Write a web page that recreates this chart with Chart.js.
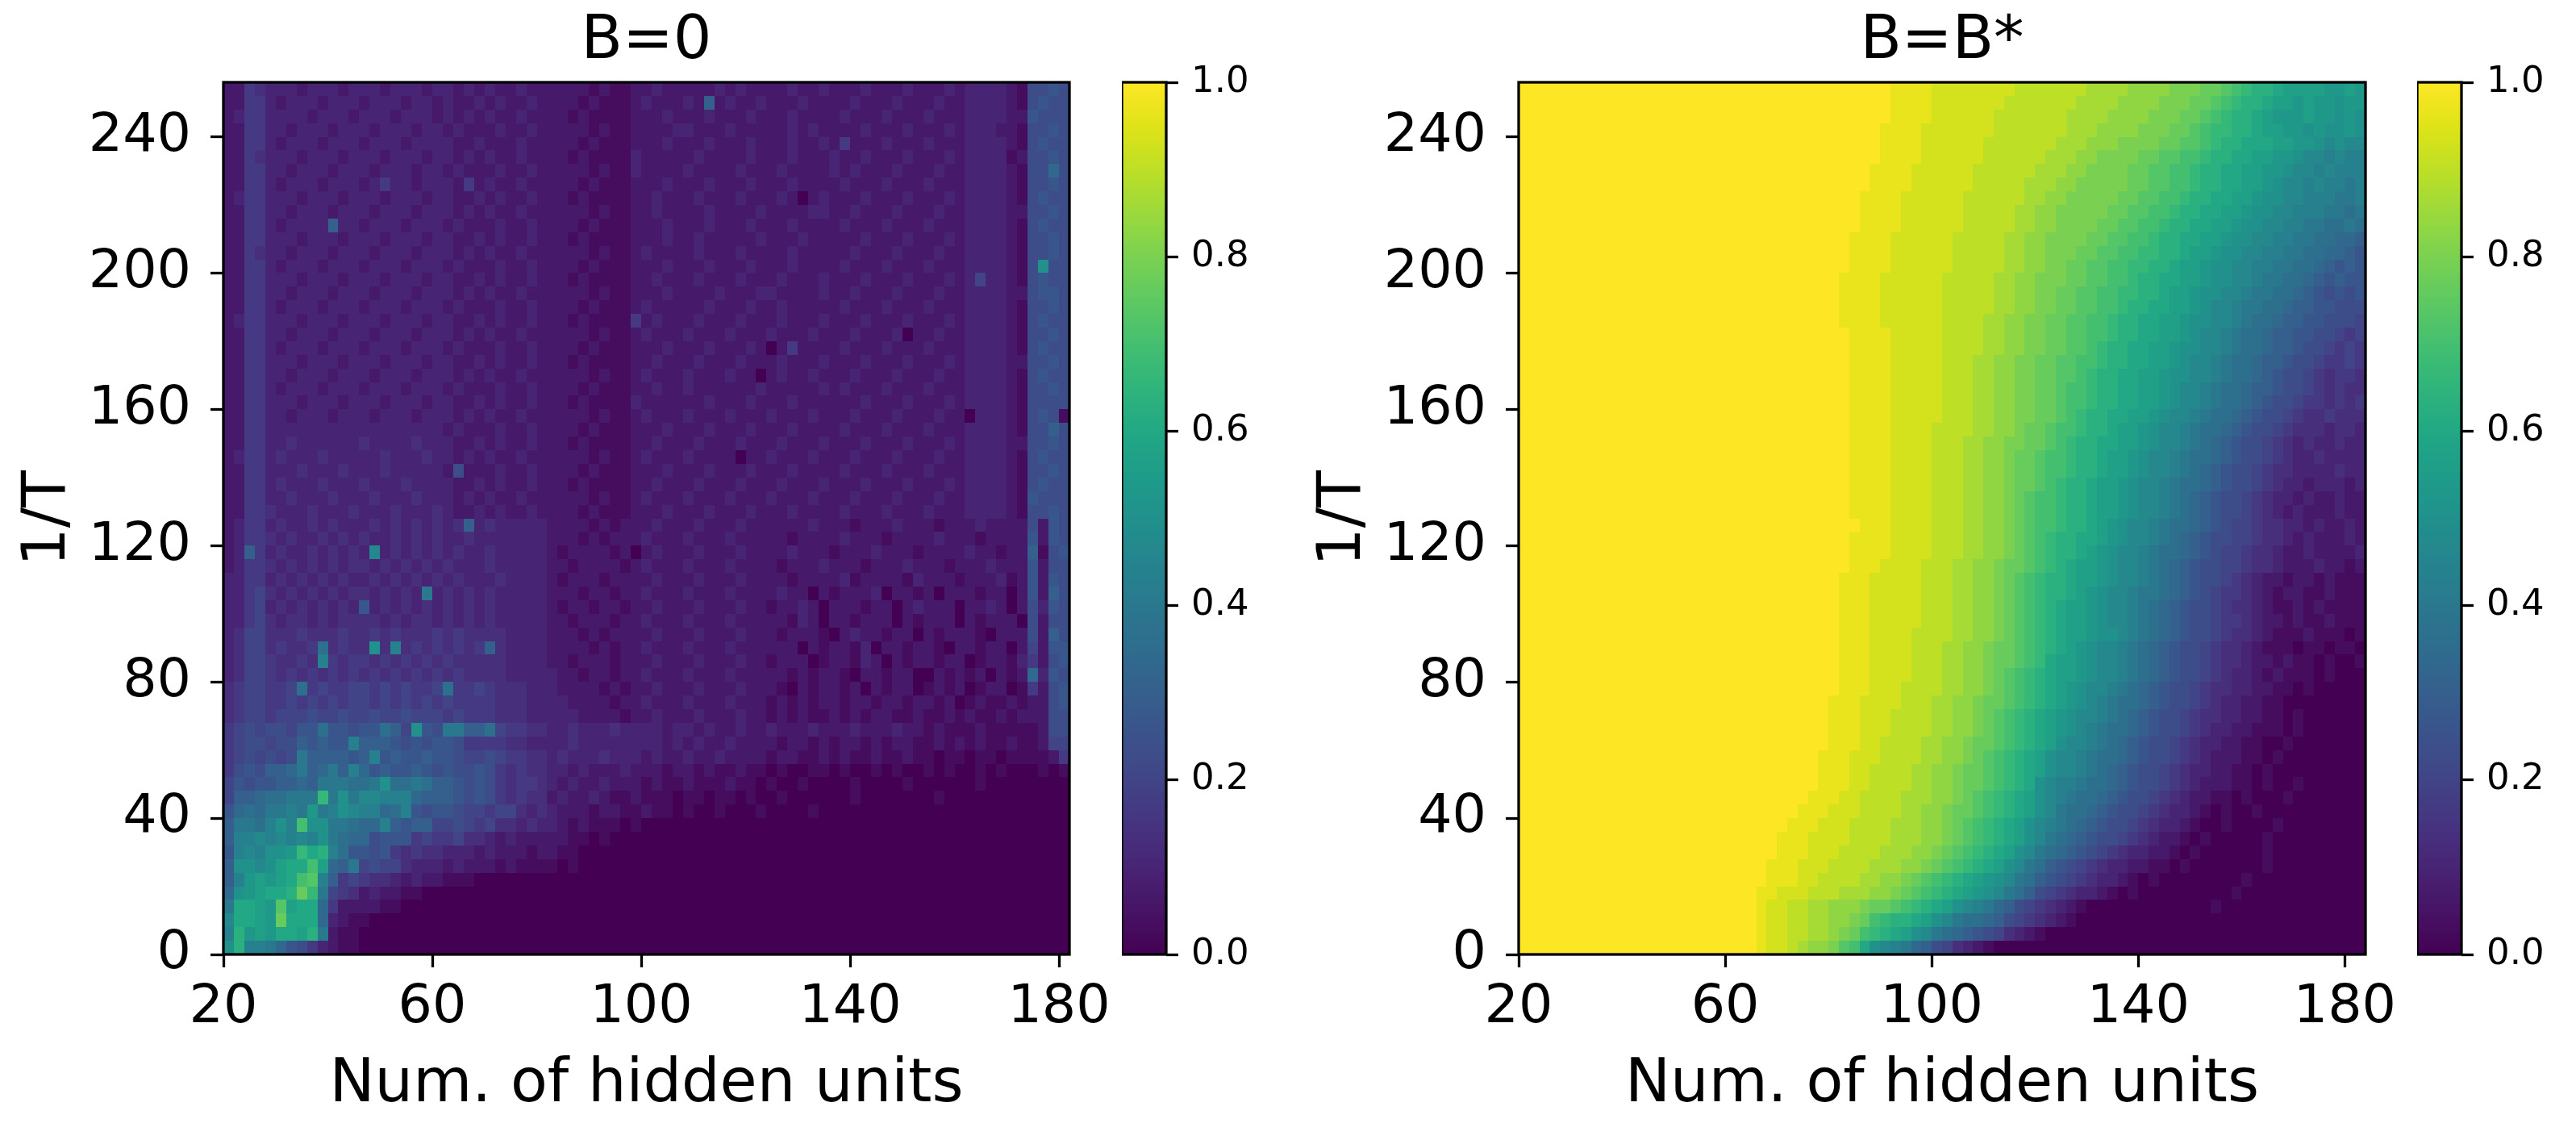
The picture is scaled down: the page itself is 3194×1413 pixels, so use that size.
<!DOCTYPE html>
<html lang="en">
  <head>
    <meta charset="UTF-8" />
    <title>B=0 vs B=B*</title>
    <script src="https://cdn.jsdelivr.net/npm/chart.js@4.4.1/dist/chart.umd.min.js"></script>
    <style>
      body {
        margin: 0;
        background: #ffffff;
      }
      #figure {
        position: relative;
        width: 3194px;
        height: 1413px;
      }
      .panel {
        position: absolute;
        top: 0;
        height: 1413px;
      }
    </style>
  </head>
  <body>
    <div id="figure">
      <div class="panel" style="left: 0px; width: 1400px"><canvas id="heatB0"></canvas></div>
      <div class="panel" style="left: 1391px; width: 200px"><canvas id="cbarB0"></canvas></div>
      <div class="panel" style="left: 1606px; width: 1400px"><canvas id="heatBstar"></canvas></div>
      <div class="panel" style="left: 2997px; width: 197px"><canvas id="cbarBstar"></canvas></div>
    </div>

    <script>
      // axis ticks
      const unitTicks = [20, 60, 100, 140, 180];
      const tempTicks = [0, 40, 80, 120, 160, 200, 240];
      const cbarTicks = [0, 0.2, 0.4, 0.6, 0.8, 1.0];

      // extents of the two grids (hidden units x 1/T)
      const b0UnitRange = [20, 182];
      const bStarUnitRange = [20, 184];
      const invTRange = [0, 256];
      const unitStep = 2;
      const invTStep = 4;

      // cell values, one string per 1/T row, top row first.
      // each char is a level: index in levelChars / 30 ; "x{n}" repeats x n times, "|" is only a separator
      const levelChars = "0123456789abcdefghijklmnopqrstu";

      const b0Rows = [
        "2254|33323332333233323|3232322322|22221211|22322222323222232232|2232223222323333|21|7787",
        "2255|32333233323332332|3223232232|22212111|23222329232232223222|2322232223223333|21|7877",
        "2355|33332333233323332|3232322322|22121111|22232223222322232222|3222322232223333|22|8777",
        "2255|33233323332333233|2322232232|22221211|22223322232222232322|2232223222323332|21|7787",
        "2255|32333233323332333|3223222322|22212111|22232223222322232232|5222322232223333|21|7877",
        "2254|33323332333233323|3232322322|22121111|32222232222322232223|2232223222323333|12|7787",
        "2255|33233323332333233|2322232232|22221211|32222322223222322223|2322232223223333|21|77a7",
        "2255|32333233323533233|3252322322|22212111|22232223222322232222|3222322232223333|21|7787",
        "2355|33323332333233323|3223232232|22121111|22322232223222320232|2232223222323333|21|7877",
        "2255|33233323332333233|3232322322|22221211|22322223222232222332|2322232223223333|22|7787",
        "2255|32333393323332333|2322232232|22212111|22232223222322232222|3222322232223333|21|7877",
        "2255|33323332333233323|3223232232|22121111|22232232222232223222|2232223222323333|21|7787",
        "2254|33233323332333233|3232322322|22221211|23222232223222232222|2322232223223333|21|7787",
        "2255|32333233323332333|2322232232|22212111|22232223222322232222|3222322232223333|21|7f77",
        "2255|33323332333233323|3223232232|22121111|22322232223222322232|2232223222323633|21|7877",
        "2255|33233323332333233|3232322322|22221211|22232222322233222232|2322232223223333|22|7887",
        "2255|32333233323332333|2322232232|22212111|23222223222322322222|3222322232223333|21|7787",
        "2355|33323332333233323|3223232232|22121111|52322232223222322232|2232223222323333|21|7877",
        "2255|33233323332333233|3232322322|22221211|23222322232223222322|2322230223223333|21|7787",
        "2255|32333233323332333|2322232232|22212111|22232223222320252222|3222322232223333|21|7877",
        "2255|33323332333233323|3223232232|22121111|22322232223222322232|2232223222323333|22|7787",
        "2255|33233323332333233|3232322322|22221211|23222322232202322322|2322232223223333|21|7877",
        "2255|32333233323332333|2322232232|22212111|22322322222232222232|3222322232223333|21|7787",
        "2255|33323332333233323|3223232232|22121111|32222223222322232222|2232223222323333|21|7777",
        "2255|33233323332333233|3232322322|22221211|23222322232223222322|2322232223220333|21|7871",
        "2255|33333333333333333|2322232232|22212111|22232223222322232222|3222322232223333|21|7797",
        "2255|33433333343333433|3223232232|22121111|22322232223222322232|2232223222323333|22|7787",
        "2355|34333433333433343|3232322322|22221211|23222322220223222322|2322232223223333|21|7877",
        "2255|33343334333433333|2722232232|22212111|22232223222322232222|3222322232223333|21|7787",
        "2255|34333433343334333|3223232232|22121111|22322232223222322232|2232223222323333|21|7877",
        "2255|33433343334333433|3232322322|22221211|23222322232223222322|2322232223223333|21|8777",
        "2255|43334333433343334|3223232232|22212111|22232223222322232222|3222322232223333|21|7787",
        "2355343343433|343434343493433333|22221212223222322232|22222322212223222122232222|7287",
        "2355434334343|433434343343333333|22212122232223222322|22212222322212222322212222|8287",
        "2395343343434|3e3434343433433333|21222212023222322232|22232221222322212222322122|9178",
        "2355434343434|434343434333433333|22122221232223222322|22122232221222322212223222|8277",
        "3355343434343|343434343433343333|21222122223222322232|22212222312222132221222312|8287",
        "3356434343434|434343c34343433333|22212212232223222322|22322021222302212022212202|8297",
        "3356343434343|834343434343433333|21221221223222322232|21223202221220232220223202|7387",
        "3356434434344|443434434343433333|22122212232223222322|22213202212220212220212220|7277",
        "3466444544454|454544454544443333|22212122223222322232|22122210232212202122210222|7297",
        "346645445b454|4f4d45454545943333|22221212232223222322|22220212213022122102212202|6288",
        "346654454d545|545454545444443333|22122212223222322232|21222012213202122122012213|5278",
        "3466545454545|454545454544443333|32212212232223222322|22212122102212200212120212|a387",
        "4566556b56556|65656556b556544433|32222121223222322232|22102122120212201212012201|5278",
        "4566556565656|656565656555544433|33222212232223222322|21212122122122122120121121|2278",
        "4566566676676|676676665655544433|33322221223222322232|21212112121221121121211212|2277",
        "567677688b887|88b96f87cc99b65544|33433343333233232232|23222322232223221211121111|1277",
        "567767798988d|999878788755554433|33433333333232322322|22122121221212211212121121|1266",
        "5676767c99998|9d8988988766765544|34333433323223223222|21221121211211211011011011|1125",
        "578799ac9ac9d|a89889878778754544|33232223222122121121|10100110100101001010010100|0101",
        "6878899a9cccb|bcfbbcb99878754554|32322322212112111211|01001000010000100000010000|0000",
        "699abbccckcfc|eeddda999878754544|23223211211101101101|00100000010000000100000000|0000",
        "8abaccdcgcdfe|ddabd8788766566434|32221221121101001000|10000100000000000000000000|0000",
        "9ccbdfdlffccb|aad989966765644343|3212111010|0{10}|0{26}|0000",
        "9ddedededfcba|a78885655644323222|221101|0{14}|0{26}|0000",
        "8dedffgkijdb8|878545443332322212|211|0{17}|0{26}|0000",
        "9ffefhiilha9c|676643332322212111|101|0{17}|0{26}|0000",
        "9dghghilmd956|544323221110000000|0{20}|0{26}|0000",
        "afghiijnkc654|232211|0{12}|0{20}|0{26}|0000",
        "ciihgmhiia522|2211|0{14}|0{20}|0{26}|0000",
        "eiihgniiia321|1|0{17}|0{20}|0{26}|0000",
        "djghgiihjc211|0{18}|0{20}|0{26}|0000",
        "fjddca8753211|0{18}|0{20}|0{26}|0000",
      ];

      const bStarRows = [
        "u{36}t{4}s{8}r{7}q{4}p{4}o{3}n{2}mlkj{2}ih{4}g{2}hg",
        "u{36}t{4}s{7}r{7}q{4}p{4}o{3}n{2}mlkj{2}ih{2}ghg{2}fg{2}",
        "u{36}t{4}s{6}r{7}q{4}p{4}o{3}n{2}mlkj{2}ihg{3}hg{2}fgf",
        "u{35}t{4}s{7}r{7}q{3}p{4}o{3}n{2}mlk{2}j{2}ih{2}g{2}fgf{2}gf",
        "u{35}t{4}s{6}r{7}q{3}p{3}o{4}n{2}m{2}lkj{2}i{3}h{2}g{2}fefe{2}",
        "u{35}t{4}s{6}r{6}q{3}p{2}o{4}n{2}m{2}l{2}kj{2}i{2}h{2}g{2}fe{2}ded{2}",
        "u{34}t{4}s{6}r{6}q{3}p{2}o{4}n{2}m{2}l{2}kj{2}i{2}h{2}g{2}fe{2}ded{3}",
        "u{34}t{4}s{6}r{5}q{3}p{2}o{5}n{2}m{2}l{2}kj{2}i{2}h{2}gfe{2}ded{2}cd",
        "u{33}t{4}s{6}r{6}q{2}p{2}o{5}n{2}m{2}l{2}kj{2}i{2}h{2}gf{2}e{2}d{3}c{2}d",
        "u{33}t{4}s{6}r{5}q{2}p{2}o{5}n{2}m{2}l{2}kj{2}i{2}h{2}gf{2}e{2}d{3}c{2}bc",
        "u{33}t{4}s{6}r{5}q{2}p{2}o{4}n{2}m{2}l{2}kj{2}i{2}h{2}gf{2}e{2}d{2}c{2}b{2}cb",
        "u{32}t{4}s{6}r{5}q{2}p{2}o{4}n{2}m{2}l{2}kj{2}i{2}h{2}gf{2}e{2}d{2}c{2}b{2}a{2}9",
        "u{32}t{4}s{6}r{5}q{2}p{2}o{3}n{2}m{2}l{2}k{2}j{2}ih{2}gf{2}e{2}d{2}c{2}b{2}a{2}98",
        "u{32}t{4}s{6}r{5}q{2}p{2}o{2}n{2}m{2}l{2}k{2}j{2}ih{2}gf{2}e{2}d{2}c{2}b{2}a9898",
        "u{31}t{4}s{6}r{5}q{2}p{2}o{3}n{2}m{2}l{2}kj{2}i{2}h{2}gf{2}e{2}dc{2}b{2}a98988",
        "u{31}t{4}s{6}r{5}q{2}p{2}o{2}n{2}m{2}l{2}k{2}j{2}ih{2}gf{2}e{2}dc{2}b{2}a987878",
        "u{31}t{4}s{6}r{5}q{2}p{2}o{2}n{2}m{2}l{2}kj{2}i{2}h{2}gfe{2}dc{2}b{2}a9{2}8{2}7{3}",
        "u{31}t{4}s{6}r{4}q{2}p{2}o{2}n{2}m{2}l{2}kj{2}i{2}h{2}gf{2}e{2}dcb{2}a9{2}8{2}7{3}6",
        "u{32}t{4}s{5}r{4}q{2}p{2}o{2}n{2}m{2}l{2}kj{2}i{2}h{2}gfe{2}dcb{2}a9{2}8{2}7{2}656",
        "u{32}t{4}s{5}r{4}q{2}p{2}o{2}n{2}m{2}lkj{2}i{2}h{2}gf{2}e{2}dcb{2}a9{2}87{2}6565",
        "u{32}t{4}s{5}r{3}q{2}p{2}o{2}n{2}m{2}l{2}kj{2}i{2}h{2}gfe{2}dcb{2}a9{2}87{2}65{2}65",
        "u{32}t{4}s{5}r{3}q{2}p{2}o{2}n{2}m{2}lkj{2}i{2}h{2}gf{2}e{2}dcb{2}a987{2}654554",
        "u{32}t{4}s{5}r{3}q{2}p{2}o{2}n{2}ml{2}kj{2}i{2}h{2}gfe{2}dcb{2}a9{2}87{2}654544",
        "u{32}t{4}s{5}r{3}q{2}p{2}o{2}n{2}ml{2}kj{2}i{2}h{2}gfe{2}dcb{2}a987{2}6554545",
        "u{32}t{4}s{5}r{3}q{2}p{2}o{2}n{2}mlkj{2}i{2}h{2}gfe{2}dcb{2}a987{2}65445444",
        "u{32}t{4}s{4}r{4}q{2}p{2}on{2}ml{2}kj{2}ih{2}gfe{2}dcb{2}a987{2}654{3}34{2}3",
        "u{32}t{4}s{4}r{3}q{2}p{2}o{2}n{2}mlkj{2}i{2}h{2}gfe{2}dcba987{2}6543433433",
        "u{32}t{4}s{4}r{3}q{2}p{2}on{2}ml{2}kj{2}ih{2}gfe{2}dcb{2}a987{2}6543343333",
        "u{32}t{4}s{4}r{3}q{2}p{2}on{2}ml{2}kj{2}ih{2}gfe{2}dcba987{2}65443333433",
        "u{32}t{4}s{4}r{3}q{2}p{2}on{2}mlkj{2}ih{2}gfe{2}dcb{2}a987{2}65433233323",
        "u{32}t{4}s{4}r{3}q{2}p{2}onml{2}kj{2}ih{2}gfe{2}dcba987{2}654332322322",
        "u{32}t{4}s{4}r{3}q{2}p{2}onml{2}kj{2}ih{2}gfe{2}dcba987{2}654323222322",
        "u{33}t{3}s{4}r{3}q{2}p{2}onml{2}kj{2}ihgfe{2}dcb{2}a9876{2}54{2}3{2}232{2}32",
        "u{32}t{4}s{4}r{3}q{2}p{2}onmlkj{2}i{2}hgfe{2}dcba987{2}6{2}54{2}32322232",
        "u{32}t{4}s{4}r{3}q{2}p{2}onmlkj{2}ihgfe{2}dcb{2}a9876{2}54{2}322322223",
        "u{32}t{3}s{4}r{3}q{2}p{2}on{2}mlkjih{2}gfe{2}dcba987{2}6{2}54{2}322232212",
        "u{31}t{3}s{5}r{3}q{2}p{2}onmlkj{2}ih{2}gfe{2}dcba987{2}65432{2}12{2}121{3}",
        "u{31}t{3}s{5}r{3}q{2}p{2}onmlkj{2}ihgfe{2}dc{2}ba98765{2}43212{2}1{2}21{3}",
        "u{31}t{3}s{5}r{3}q{2}p{2}onmlkjih{2}gfe{2}dcba987{2}654{2}321{2}2121{4}",
        "u{31}t{3}s{5}r{3}q{2}p{2}onmlkjih{2}gfe{2}dcba987{2}65{2}432{2}121{2}21{3}",
        "u{31}t{3}s{4}r{4}q{2}p{2}onmlkjih{2}gf{2}edcba987{2}654{2}321{3}21{3}01",
        "u{31}t{3}s{4}r{3}q{2}p{2}on{2}mlkjihgfe{2}dcba987{2}654{2}321{3}01{2}01{2}0",
        "u{31}t{3}s{4}r{3}q{2}p{2}on{2}mlkih{2}gfe{2}dcba987{2}654{2}32{2}121{2}010{2}1",
        "u{31}t{3}s{4}r{3}q{2}p{2}onmlkjih{2}gfe{2}dcba987{2}6543{2}2121{3}010{3}",
        "u{31}t{3}s{3}r{4}q{2}p{2}onmlkjihgfe{2}dcba987{2}654{2}3{2}2{2}1{2}010{5}",
        "u{30}t{3}s{4}r{3}q{2}p{2}on{2}mlkjihgfedcb{2}a987{2}6543{2}2{2}1{2}0{8}",
        "u{30}t{3}s{3}r{4}q{2}p{2}onmlkjihgfe{2}dcba987{2}654{2}3{2}2{2}1{2}010{6}",
        "u{30}t{3}s{3}r{4}q{2}p{2}onmlkjihgfedcb{2}a987{2}6543{2}2{2}1{2}1010{6}",
        "u{30}t{3}s{2}r{4}q{2}p{2}on{2}mlkjihfe{2}dcba987{2}6543{2}2{2}1{2}0{2}10{7}",
        "u{29}t{3}s{3}r{4}q{2}p{2}onmlkjihfe{2}dcb{2}a987{2}65432{3}1{2}010{7}",
        "u{29}t{3}s{2}r{4}q{2}p{2}on{2}mlkjihfe{2}dcba987{2}6543{2}2{2}1{2}010{9}",
        "u{29}t{3}s{2}r{4}q{2}p{2}on{2}mlkjifed{2}cb{2}a987{2}65432{3}1{2}010{2}10{6}",
        "u{28}t{3}s{2}r{4}q{3}p{2}onmlkjihfedcb{2}a987{2}65432{2}1{2}010{3}10{7}",
        "u{27}t{3}s{3}r{4}q{2}p{2}on{2}mlkjihfecb{2}a987{2}6543{2}21010{2}10{10}",
        "u{26}t{3}s{3}r{4}q{3}p{2}onmlkjihfedcba987{2}6543{2}210{2}10{4}10{8}",
        "u{25}t{3}s{4}r{4}q{3}p{2}onmlkjihfecba987{2}65432{2}1010{5}10{9}",
        "u{25}t{3}s{3}r{4}q{3}p{2}onmlkjihfecba9876543{2}2{2}1010{6}10{9}",
        "u{24}t{3}s{3}r{4}q{3}p{2}onmlkjihfecb9876543{2}2{2}1{2}010{7}10{9}",
        "u{24}t{3}s{2}r{4}q{2}p{2}onmlkjihgfecb9876543{2}21010{8}10{11}",
        "u{23}t{2}s{3}r{3}q{3}p{2}onmlkjihgfecb976543{2}21010{9}10{12}",
        "u{23}ts{2}r{2}q{2}p{3}on{2}mlkjihfedca976543210{12}10{14}",
        "u{23}ts{2}r{2}q{2}p{2}onlkj{2}ihfecb{2}a976543210{28}",
        "u{23}ts{2}r{2}q{2}ponlkjihfecba987643210{31}",
        "u{23}ts{2}rqp{2}omlifedca97643210{36}",
      ];

      // viridis colour map, stops every 0.05
      const viridisStops = [
        "#440154", "#471365", "#482475", "#463480", "#414487", "#3b528b", "#355f8d",
        "#2f6c8e", "#2a788e", "#25848e", "#21918c", "#1e9c89", "#22a884", "#2fb47c",
        "#44bf70", "#5ec962", "#7ad151", "#9bd93c", "#bddf26", "#dfe318", "#fde725",
      ].map((h) => [1, 3, 5].map((i) => parseInt(h.slice(i, i + 2), 16)));

      function viridis(v) {
        v = Math.max(0, Math.min(1, v));
        const t = v * (viridisStops.length - 1);
        const i = Math.min(viridisStops.length - 2, Math.floor(t));
        const f = t - i;
        const a = viridisStops[i], b = viridisStops[i + 1];
        const c = a.map((x, j) => Math.round(x + (b[j] - x) * f));
        return `rgb(${c[0]},${c[1]},${c[2]})`;
      }

      function decodeRow(str, ncol) {
        const out = [];
        for (let i = 0; i < str.length; i++) {
          const ch = str[i];
          if (ch === "|") continue;
          let n = 1;
          if (str[i + 1] === "{") {
            const j = str.indexOf("}", i);
            n = parseInt(str.slice(i + 2, j), 10);
            i = j;
          }
          const v = levelChars.indexOf(ch) / (levelChars.length - 1);
          for (let r = 0; r < n; r++) out.push(v);
        }
        while (out.length < ncol) out.push(out[out.length - 1]);
        return out.slice(0, ncol);
      }

      function buildCells(rows, unitRange) {
        const ncol = Math.round((unitRange[1] - unitRange[0]) / unitStep);
        const cells = [];
        rows.forEach((row, r) => {
          const k = rows.length - 1 - r;
          decodeRow(row, ncol).forEach((v, c) => {
            cells.push({
              x: unitRange[0] + (c + 0.5) * unitStep,
              y: invTRange[0] + (k + 0.5) * invTStep,
              v: v,
            });
          });
        });
        return cells;
      }

      const FONT = "'DejaVu Sans', sans-serif";
      const INK = "#000000";

      // draws the cells through the chart scales, then the axes frame
      const heatmapPlugin = {
        id: "heatmap",
        beforeDatasetsDraw(chart) {
          const { ctx, chartArea: a, scales } = chart;
          const xs = scales.x, ys = scales.y;
          ctx.save();
          ctx.beginPath();
          ctx.rect(a.left, a.top, a.width, a.height);
          ctx.clip();
          chart.data.datasets.forEach((ds) => {
            if (!ds.cellW) return;
            ds.data.forEach((p) => {
              const x0 = Math.round(xs.getPixelForValue(p.x - ds.cellW / 2));
              const x1 = Math.round(xs.getPixelForValue(p.x + ds.cellW / 2));
              const y0 = Math.round(ys.getPixelForValue(p.y - ds.cellH / 2));
              const y1 = Math.round(ys.getPixelForValue(p.y + ds.cellH / 2));
              ctx.fillStyle = viridis(p.v);
              ctx.fillRect(x0, y1, x1 - x0, y0 - y1);
            });
          });
          ctx.restore();
        },
        afterDatasetsDraw(chart) {
          const { ctx, chartArea: a } = chart;
          ctx.save();
          ctx.strokeStyle = INK;
          ctx.lineWidth = 3.3;
          ctx.strokeRect(a.left, a.top, a.width, a.height);
          ctx.restore();
        },
      };

      // colour bar strips, drawn along the colour bar's own y scale
      const colorbarPlugin = {
        id: "colorbar",
        beforeDatasetsDraw(chart) {
          const { ctx, chartArea: a, scales } = chart;
          const ys = scales.y;
          const steps = 256;
          ctx.save();
          for (let i = 0; i < steps; i++) {
            const top = Math.floor(ys.getPixelForValue((i + 1) / steps));
            const bot = Math.ceil(ys.getPixelForValue(i / steps));
            ctx.fillStyle = viridis((i + 0.5) / steps);
            ctx.fillRect(a.left, top, a.width, bot - top);
          }
          ctx.restore();
        },
        afterDatasetsDraw(chart) {
          const { ctx, chartArea: a } = chart;
          ctx.save();
          ctx.strokeStyle = INK;
          ctx.lineWidth = 3.3;
          ctx.strokeRect(a.left, a.top, a.width, a.height);
          ctx.restore();
        },
      };

      function tickGrid(len) {
        return {
          display: true,
          drawOnChartArea: false,
          drawTicks: true,
          tickLength: len,
          tickWidth: 3.3,
          tickColor: INK,
        };
      }

      function heatChart(canvasId, title, rows, unitRange, rightPad) {
        const cells = buildCells(rows, unitRange);
        return new Chart(document.getElementById(canvasId), {
          type: "scatter",
          data: {
            datasets: [
              {
                data: cells,
                cellW: unitStep,
                cellH: invTStep,
                pointRadius: 0,
                pointHoverRadius: 0,
                showLine: false,
              },
            ],
          },
          options: {
            responsive: true,
            maintainAspectRatio: false,
            animation: false,
            events: [],
            layout: { padding: { left: 0, right: rightPad, top: 0, bottom: 0 } },
            plugins: {
              legend: { display: false },
              tooltip: { enabled: false },
              title: {
                display: true,
                text: title,
                fullSize: false,
                color: INK,
                font: { family: FONT, size: 75, weight: "normal", lineHeight: 1.2 },
                padding: { top: 8, bottom: 4 },
              },
            },
            scales: {
              x: {
                type: "linear",
                position: "bottom",
                min: unitRange[0],
                max: unitRange[1],
                afterFit: (s) => {
                  s.height = 230;
                },
                afterBuildTicks: (s) => {
                  s.ticks = unitTicks.map((v) => ({ value: v }));
                },
                ticks: {
                  color: INK,
                  font: { family: FONT, size: 66.7, lineHeight: 1.2 },
                  padding: 11,
                  maxRotation: 0,
                  autoSkip: false,
                },
                grid: tickGrid(16),
                border: { display: false },
                title: {
                  display: true,
                  text: "Num. of hidden units",
                  color: INK,
                  font: { family: FONT, size: 75, lineHeight: 1.2 },
                  padding: { top: 0, bottom: 22 },
                },
              },
              y: {
                type: "linear",
                position: "left",
                min: invTRange[0],
                max: invTRange[1],
                afterFit: (s) => {
                  s.width = 277;
                },
                afterBuildTicks: (s) => {
                  s.ticks = tempTicks.map((v) => ({ value: v }));
                },
                ticks: {
                  color: INK,
                  font: { family: FONT, size: 66.7, lineHeight: 1.2 },
                  padding: 24,
                  autoSkip: false,
                },
                grid: tickGrid(16),
                border: { display: false },
                title: {
                  display: true,
                  text: "1/T",
                  color: INK,
                  font: { family: FONT, size: 75, lineHeight: 1.2 },
                  padding: { top: 16, bottom: 0 },
                },
              },
            },
          },
          plugins: [heatmapPlugin],
        });
      }

      function colorbarChart(canvasId, axisWidth) {
        return new Chart(document.getElementById(canvasId), {
          type: "scatter",
          data: { datasets: [] },
          options: {
            responsive: true,
            maintainAspectRatio: false,
            animation: false,
            events: [],
            layout: { padding: { left: 0, right: 0, top: 102, bottom: 230 } },
            plugins: { legend: { display: false }, tooltip: { enabled: false } },
            scales: {
              x: { display: false, min: 0, max: 1 },
              y: {
                position: "right",
                min: 0,
                max: 1,
                afterFit: (s) => {
                  s.width = axisWidth;
                },
                afterBuildTicks: (s) => {
                  s.ticks = cbarTicks.map((v) => ({ value: v }));
                },
                ticks: {
                  color: INK,
                  font: { family: FONT, size: 45, lineHeight: 1.2 },
                  padding: 16,
                  autoSkip: false,
                  callback: (v) => Number(v).toFixed(1),
                },
                grid: tickGrid(15),
                border: { display: false },
              },
            },
          },
          plugins: [colorbarPlugin],
        });
      }

      heatChart("heatB0", "B=0", b0Rows, b0UnitRange, 74);
      colorbarChart("cbarB0", 145);
      heatChart("heatBstar", "B=B*", bStarRows, bStarUnitRange, 73);
      colorbarChart("cbarBstar", 142);
    </script>
  </body>
</html>
